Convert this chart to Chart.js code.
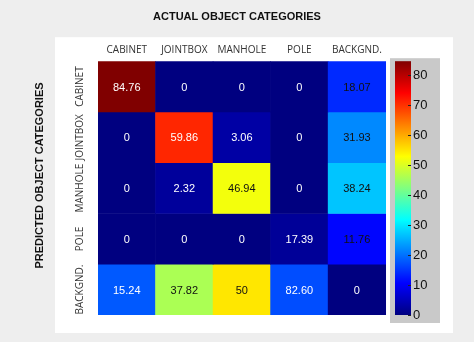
<!DOCTYPE html>
<html><head><meta charset="utf-8">
<script src="https://cdn.jsdelivr.net/npm/chart.js@4/dist/chart.umd.min.js"></script>
<style>html,body{margin:0;padding:0;background:#eeeeee;}#wrap{width:474px;height:342px;}</style>
</head><body><div id="wrap"><canvas id="c" width="474" height="342"></canvas></div>
<script>
// ---- data ----
const actualCategories = ['CABINET', 'JOINTBOX', 'MANHOLE', 'POLE', 'BACKGND.'];
const predictedCategories = ['CABINET', 'JOINTBOX', 'MANHOLE', 'POLE', 'BACKGND.'];
const rowCabinet  = [84.76, 0, 0, 0, 18.07];
const rowJointbox = [0, 59.86, 3.06, 0, 31.93];
const rowManhole  = [0, 2.32, 46.94, 0, 38.24];
const rowPole     = [0, 0, 0, 17.39, 11.76];
const rowBackgnd  = [15.24, 37.82, 50, 82.60, 0];
// colour level of each cell
const colorCabinet  = [84.76, 0, 0, 0, 14];
const colorJointbox = [0, 71, 3.06, 0, 22];
const colorManhole  = [0, 2.32, 52, 0, 27];
const colorPole     = [0, 0, 0, 2, 11];
const colorBackgnd  = [18, 46, 55, 17, 0];
const colorbarTicks = [0, 10, 20, 30, 40, 50, 60, 70, 80];
const colorbarMin = 0;
const colorbarMax = 84.76;

const valueRows = [rowCabinet, rowJointbox, rowManhole, rowPole, rowBackgnd];
const colorRows = [colorCabinet, colorJointbox, colorManhole, colorPole, colorBackgnd];

// ---- styling ----
const DARK_LABEL_CELLS = ['0,4', '1,4', '2,2', '2,4', '3,4', '4,1', '4,2'];
function clamp01(v) { return Math.max(0, Math.min(1, v)); }
function jetRGB(t) {
  t = clamp01(t);
  const r = clamp01(Math.min(4 * t - 1.5, -4 * t + 4.5));
  const g = clamp01(Math.min(4 * t - 0.5, -4 * t + 3.5));
  const b = clamp01(Math.min(4 * t + 0.5, -4 * t + 2.5));
  return 'rgb(' + Math.round(r * 255) + ',' + Math.round(g * 255) + ',' + Math.round(b * 255) + ')';
}
function jet(v) { return jetRGB((v - colorbarMin) / (colorbarMax - colorbarMin)); }
function fmt(v) { return Number.isInteger(v) ? String(v) : v.toFixed(2); }

const bgPlugin = {
  id: 'bgPanels',
  beforeDraw(chart) {
    const ctx = chart.ctx, a = chart.chartArea;
    ctx.save();
    ctx.fillStyle = '#eeeeee';
    ctx.fillRect(0, 0, chart.width, chart.height);
    ctx.fillStyle = '#ffffff';
    ctx.fillRect(a.left - 43, a.top - 24, (a.right + 42) - (a.left - 43), (a.bottom + 18) - (a.top - 24));
    // colorbar gray frame
    ctx.fillStyle = '#c9c9c9';
    ctx.fillRect(a.right - 21, a.top - 3, 50, a.bottom - a.top + 11);
    ctx.restore();
  },
  beforeDatasetsDraw(chart) {
    const ctx = chart.ctx, a = chart.chartArea, cb = chart.scales.cb;
    const yTop = cb.getPixelForValue(colorbarMax), yBot = cb.getPixelForValue(colorbarMin);
    const grad = ctx.createLinearGradient(0, yBot, 0, yTop);
    for (let i = 0; i <= 40; i++) grad.addColorStop(i / 40, jetRGB(i / 40));
    ctx.save();
    ctx.fillStyle = grad;
    ctx.fillRect(a.right - 16, yTop, 16, yBot - yTop);
    ctx.strokeStyle = '#222';
    ctx.lineWidth = 1;
    cb.ticks.forEach(t => {
      const y = Math.round(cb.getPixelForValue(t.value)) + 0.5;
      ctx.beginPath(); ctx.moveTo(a.right - 3, y); ctx.lineTo(a.right, y); ctx.stroke();
    });
    ctx.restore();
  },
  afterDatasetsDraw(chart) {
    const ctx = chart.ctx;
    ctx.save();
    ctx.font = '11px "Liberation Sans", Arial, sans-serif';
    ctx.textAlign = 'center';
    ctx.textBaseline = 'middle';
    chart.data.datasets.forEach((ds, i) => {
      chart.getDatasetMeta(i).data.forEach((el, j) => {
        const p = el.getCenterPoint();
        ctx.fillStyle = DARK_LABEL_CELLS.includes(i + ',' + j) ? '#111111' : '#ffffff';
        ctx.fillText(fmt(valueRows[i][j]), p.x, p.y + 1);
      });
    });
    ctx.restore();
  }
};

const datasets = valueRows.map((row, i) => ({
  label: predictedCategories[i],
  data: row.map((v, j) => ({ x: j, y: [i - 0.5, i + 0.5] })),
  backgroundColor: colorRows[i].map(jet),
  borderWidth: 0,
  grouped: false,
  barPercentage: 1,
  categoryPercentage: 1,
  xAxisID: 'x',
  yAxisID: 'y'
}));

const tickFont = { family: '"Open Sans", sans-serif', size: 10 };
const titleFont = { family: '"Liberation Sans", Arial, sans-serif', size: 11, weight: 'bold' };

new Chart(document.getElementById('c'), {
  type: 'bar',
  data: { datasets },
  plugins: [bgPlugin],
  options: {
    responsive: false,
    animation: false,
    devicePixelRatio: 1,
    layout: { padding: { top: 9, left: 0, right: 0, bottom: 0 } },
    plugins: {
      legend: { display: false },
      tooltip: { enabled: false },
      title: { display: true, text: 'ACTUAL OBJECT CATEGORIES', font: titleFont, color: '#111111', padding: { top: 1, bottom: 0 } },
      subtitle: { display: true, position: 'left', text: 'PREDICTED OBJECT CATEGORIES', font: titleFont, color: '#111111', padding: { top: 33, bottom: 0 } }
    },
    scales: {
      x: {
        type: 'linear', position: 'top', min: -0.5, max: 4.94, offset: false,
        grid: { display: false, drawTicks: false, offset: false }, border: { display: false },
        afterBuildTicks(s) { s.ticks = actualCategories.map((_, j) => ({ value: j })); },
        afterFit(s) { s.height = 38; },
        ticks: { font: tickFont, color: '#333333', padding: 5, maxRotation: 0, autoSkip: false,
          callback: v => actualCategories[v] }
      },
      y: {
        type: 'linear', position: 'left', min: -0.5, max: 4.5, reverse: true, offset: false,
        grid: { display: false, drawTicks: false }, border: { display: false },
        afterBuildTicks(s) { s.ticks = predictedCategories.map((_, i) => ({ value: i })); },
        afterFit(s) { s.width = 51.8; },
        ticks: { font: tickFont, color: '#333333', padding: -7, minRotation: 90, maxRotation: 90, crossAlign: 'center', autoSkip: false,
          callback: v => predictedCategories[v] }
      },
      cb: {
        type: 'linear', position: 'right', min: colorbarMin, max: colorbarMax,
        grid: { display: false, drawTicks: false }, border: { display: false },
        afterBuildTicks(s) { s.ticks = colorbarTicks.map(v => ({ value: v })); },
        afterFit(s) { s.width = 63; },
        ticks: { font: { family: '"Liberation Sans", Arial, sans-serif', size: 13 }, color: '#111111', padding: 2, autoSkip: false }
      },
      xb: {
        type: 'linear', position: 'bottom', display: true,
        grid: { display: false, drawTicks: false }, border: { display: false },
        ticks: { display: false },
        afterFit(s) { s.height = 27; }
      }
    }
  }
});
</script></body></html>
